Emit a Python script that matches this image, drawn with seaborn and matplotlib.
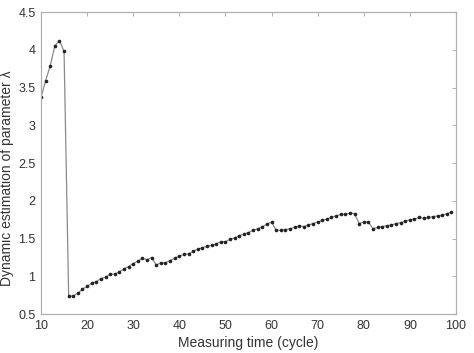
import matplotlib
matplotlib.use('Agg')
import matplotlib.pyplot as plt
import seaborn as sns
import pandas as pd

cycles = list(range(10, 100))
lam = [3.37, 3.59, 3.79, 4.05, 4.12, 3.98,
       0.74, 0.74, 0.78, 0.83, 0.87, 0.91, 0.93, 0.97, 0.99, 1.03,
       1.03, 1.06, 1.10, 1.13, 1.17, 1.20, 1.24, 1.22, 1.25, 1.15,
       1.18, 1.18, 1.21, 1.24, 1.27, 1.29, 1.30, 1.33, 1.36, 1.38,
       1.40, 1.41, 1.43, 1.46, 1.46, 1.49, 1.51, 1.54, 1.56, 1.58,
       1.61, 1.63, 1.66, 1.69, 1.72, 1.61, 1.61, 1.62, 1.63, 1.65,
       1.67, 1.66, 1.68, 1.70, 1.72, 1.74, 1.76, 1.78, 1.80, 1.82,
       1.82, 1.84, 1.83, 1.70, 1.72, 1.72, 1.63, 1.65, 1.66, 1.67,
       1.68, 1.70, 1.71, 1.73, 1.75, 1.76, 1.78, 1.77, 1.78, 1.79,
       1.80, 1.81, 1.83, 1.85]

df = pd.DataFrame({'cycle': cycles, 'lambda': lam})

sns.set_style('white')
plt.rcParams['font.family'] = ['Liberation Sans', 'DejaVu Sans']

fig = plt.figure(figsize=(4.74, 3.53), dpi=100)
ax = fig.add_axes([0.0865, 0.11, 0.8755, 0.856])

sns.lineplot(x='cycle', y='lambda', data=df, ax=ax, color='#8a8a8a', linewidth=0.9,
             marker='o', markersize=2.6, markerfacecolor='#222222',
             markeredgecolor='#222222', markeredgewidth=0)

ax.set_xlim(10, 100)
ax.set_ylim(0.5, 4.5)
ax.set_xticks(range(10, 101, 10))
ax.set_yticks([0.5, 1, 1.5, 2, 2.5, 3, 3.5, 4, 4.5])
ax.set_yticklabels(['0.5', '1', '1.5', '2', '2.5', '3', '3.5', '4', '4.5'])
ax.set_xlabel('Measuring time (cycle)', fontsize=10, color='#333333', labelpad=3)
ax.set_ylabel('Dynamic estimation of parameter λ', fontsize=10, color='#333333')
ax.yaxis.set_label_coords(-0.066, 0.45)

for s in ax.spines.values():
    s.set_visible(True)
    s.set_color('#b0b0b0')
    s.set_linewidth(0.9)
ax.tick_params(direction='in', length=3, width=0.7, color='#b0b0b0',
               labelsize=9, labelcolor='#333333', top=True, right=True, pad=4)

plt.savefig('out.png', dpi=100)
